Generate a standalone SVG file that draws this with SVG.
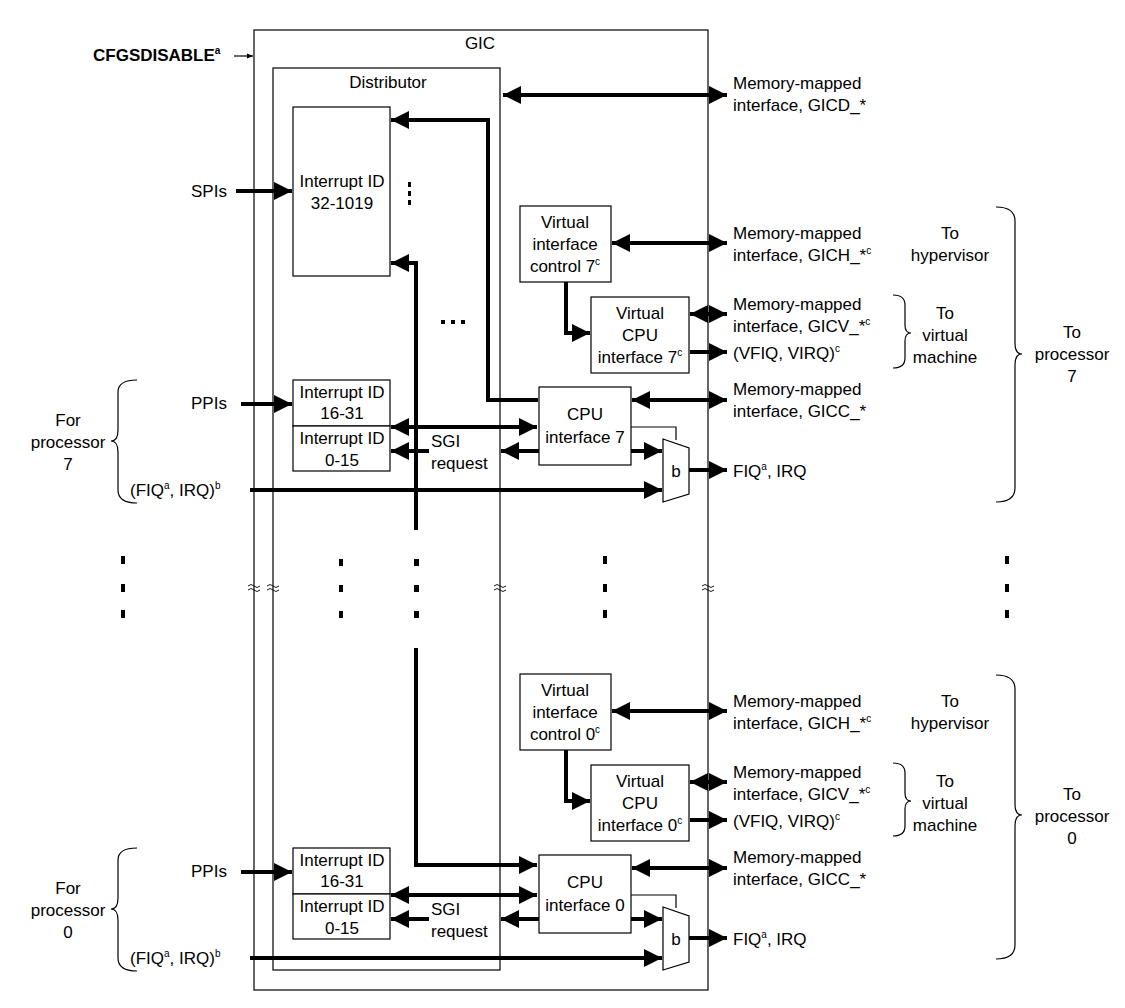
<svg xmlns="http://www.w3.org/2000/svg" width="1125" height="1008" viewBox="0 0 1125 1008">
<defs>
<marker id="a" viewBox="0 0 10 10" refX="10" refY="5" markerWidth="4.5" markerHeight="4.5" orient="auto-start-reverse" markerUnits="strokeWidth"><path d="M0,0L10,5L0,10z" fill="#000"/></marker>
<marker id="s" viewBox="0 0 10 10" refX="10" refY="5" markerWidth="6" markerHeight="6" orient="auto" markerUnits="userSpaceOnUse"><path d="M0,1L10,5L0,9z" fill="#000"/></marker>
</defs>
<style>
text{font-family:"Liberation Sans",Arial,sans-serif;font-size:17px;fill:#000}
.m{text-anchor:middle}
.sup{font-size:10px}
rect,.t{fill:#fff;stroke:#000;stroke-width:1.2}
.f{fill:none;stroke:#000;stroke-width:1.2}
.w{fill:none;stroke:#000;stroke-width:4}
.d{fill:none;stroke:#000;stroke-width:4;marker-end:url(#a)}
.b{fill:none;stroke:#000;stroke-width:4;marker-start:url(#a);marker-end:url(#a)}
rect.dot,.dot rect{fill:#000;stroke:none}
</style>
<rect width="1125" height="1008" style="fill:#fff;stroke:none"/>
<g id="gic"><rect x="254" y="30" width="454" height="960"/><text x="480" y="49" class="m">GIC</text></g>
<g id="distributor"><rect x="273" y="68" width="227" height="902"/><text x="388" y="88" class="m">Distributor</text></g>
<g id="cfg"><text x="93" y="61" style="font-weight:bold">CFGSDISABLE<tspan class="sup" dy="-7">a</tspan></text><path d="M234,56H253" class="f" style="marker-end:url(#s)"/></g>
<g id="spi-box"><rect x="293" y="107" width="97" height="169"/><text x="342" y="187" class="m">Interrupt ID</text><text x="342" y="209" class="m">32-1019</text>
<rect x="408" y="182" width="3" height="5" class="dot"/><rect x="408" y="191" width="3" height="5" class="dot"/><rect x="408" y="200" width="3" height="5" class="dot"/></g>
<g id="labels-top"><text x="191" y="197">SPIs</text>
<text x="733" y="89">Memory-mapped</text><text x="733" y="111">interface, GICD_*</text>
<rect x="441" y="320" width="4" height="4" class="dot"/><rect x="451" y="320" width="4" height="4" class="dot"/><rect x="461" y="320" width="4" height="4" class="dot"/></g>

<g id="cpu7-group">
<g id="vic7"><rect x="520" y="206" width="91" height="76"/><text x="565" y="228" class="m">Virtual</text><text x="565" y="250" class="m">interface</text><text x="565" y="272" class="m">control 7<tspan class="sup" dy="-7">c</tspan></text></g>
<g id="vcpu7"><rect x="591" y="297" width="98" height="76"/><text x="640" y="319" class="m">Virtual</text><text x="640" y="341" class="m">CPU</text><text x="640" y="363" class="m">interface 7<tspan class="sup" dy="-7">c</tspan></text></g>
<g id="cpu7"><rect x="539" y="387" width="92" height="78"/><text x="585" y="420" class="m">CPU</text><text x="585" y="443" class="m">interface 7</text></g>
<g id="ppi7"><rect x="293" y="380" width="97" height="46"/><rect x="293" y="426" width="97" height="45"/><text x="342" y="398" class="m">Interrupt ID</text><text x="342" y="419" class="m">16-31</text><text x="342" y="444" class="m">Interrupt ID</text><text x="342" y="466" class="m">0-15</text></g>
<g id="mux7"><path d="M663,439L689,448V494L663,502Z" class="t"/><text x="676" y="477" class="m">b</text></g>
<text x="733" y="239">Memory-mapped</text><text x="733" y="261">interface, GICH_*<tspan class="sup" dy="-7">c</tspan></text>
<text x="950" y="239" class="m">To</text><text x="950" y="261" class="m">hypervisor</text>
<text x="733" y="310">Memory-mapped</text><text x="733" y="332">interface, GICV_*<tspan class="sup" dy="-7">c</tspan></text>
<text x="733" y="359">(VFIQ, VIRQ)<tspan class="sup" dy="-7">c</tspan></text>
<text x="945" y="319" class="m">To</text><text x="945" y="341" class="m">virtual</text><text x="945" y="363" class="m">machine</text>
<text x="1072" y="338" class="m">To</text><text x="1072" y="360" class="m">processor</text><text x="1072" y="382" class="m">7</text>
<text x="733" y="395">Memory-mapped</text><text x="733" y="417">interface, GICC_*</text>
<text x="733" y="477">FIQ<tspan class="sup" dy="-7">a</tspan><tspan dy="7">, IRQ</tspan></text>
<text x="191" y="409">PPIs</text>
<text x="431" y="447">SGI</text><text x="431" y="469">request</text>
<text x="130" y="496">(FIQ<tspan class="sup" dy="-7">a</tspan><tspan dy="7">, IRQ)</tspan><tspan class="sup" dy="-7">b</tspan></text>
<text x="68" y="426" class="m">For</text><text x="68" y="448" class="m">processor</text><text x="68" y="470" class="m">7</text>
<path d="M893,295q12,0 12,10v20q0,8 6,8q-6,0 -6,8v17q0,10 -12,10" class="f"/>
<path d="M996,207q19,0 19,14v122q0,11 7,11q-7,0 -7,11v123q0,14 -19,14" class="f"/>
<path d="M137,380q-19,0 -19,12v38q0,11 -7,11q7,0 7,11v38q0,13 19,13" class="f"/>
</g>

<g id="cpu0-group">
<g id="vic0"><rect x="520" y="674" width="91" height="76"/><text x="565" y="696" class="m">Virtual</text><text x="565" y="718" class="m">interface</text><text x="565" y="740" class="m">control 0<tspan class="sup" dy="-7">c</tspan></text></g>
<g id="vcpu0"><rect x="591" y="765" width="98" height="76"/><text x="640" y="787" class="m">Virtual</text><text x="640" y="809" class="m">CPU</text><text x="640" y="831" class="m">interface 0<tspan class="sup" dy="-7">c</tspan></text></g>
<g id="cpu0"><rect x="539" y="855" width="92" height="78"/><text x="585" y="888" class="m">CPU</text><text x="585" y="911" class="m">interface 0</text></g>
<g id="ppi0"><rect x="293" y="848" width="97" height="46"/><rect x="293" y="894" width="97" height="45"/><text x="342" y="866" class="m">Interrupt ID</text><text x="342" y="887" class="m">16-31</text><text x="342" y="912" class="m">Interrupt ID</text><text x="342" y="934" class="m">0-15</text></g>
<g id="mux0"><path d="M663,907L689,916V962L663,970Z" class="t"/><text x="676" y="945" class="m">b</text></g>
<text x="733" y="707">Memory-mapped</text><text x="733" y="729">interface, GICH_*<tspan class="sup" dy="-7">c</tspan></text>
<text x="950" y="707" class="m">To</text><text x="950" y="729" class="m">hypervisor</text>
<text x="733" y="778">Memory-mapped</text><text x="733" y="800">interface, GICV_*<tspan class="sup" dy="-7">c</tspan></text>
<text x="733" y="827">(VFIQ, VIRQ)<tspan class="sup" dy="-7">c</tspan></text>
<text x="945" y="787" class="m">To</text><text x="945" y="809" class="m">virtual</text><text x="945" y="831" class="m">machine</text>
<text x="1072" y="800" class="m">To</text><text x="1072" y="822" class="m">processor</text><text x="1072" y="844" class="m">0</text>
<text x="733" y="863">Memory-mapped</text><text x="733" y="885">interface, GICC_*</text>
<text x="733" y="945">FIQ<tspan class="sup" dy="-7">a</tspan><tspan dy="7">, IRQ</tspan></text>
<text x="191" y="877">PPIs</text>
<text x="431" y="915">SGI</text><text x="431" y="937">request</text>
<text x="130" y="964">(FIQ<tspan class="sup" dy="-7">a</tspan><tspan dy="7">, IRQ)</tspan><tspan class="sup" dy="-7">b</tspan></text>
<text x="68" y="894" class="m">For</text><text x="68" y="916" class="m">processor</text><text x="68" y="938" class="m">0</text>
<path d="M893,763q12,0 12,10v20q0,8 6,8q-6,0 -6,8v17q0,10 -12,10" class="f"/>
<path d="M996,675q19,0 19,14v115q0,11 7,11q-7,0 -7,11v119q0,14 -19,14" class="f"/>
<path d="M137,848q-19,0 -19,12v38q0,11 -7,11q7,0 7,11v38q0,13 19,13" class="f"/>
</g>

<g id="dots">
<g class="dot">
<rect x="121" y="556" width="4" height="8"/><rect x="121" y="584" width="4" height="8"/><rect x="121" y="610" width="4" height="8"/>
<rect x="339" y="559" width="4" height="7"/><rect x="339" y="585" width="4" height="7"/><rect x="339" y="611" width="4" height="7"/>
<rect x="414" y="559" width="5" height="7"/><rect x="414" y="585" width="5" height="7"/><rect x="414" y="611" width="5" height="7"/>
<rect x="603" y="556" width="4" height="8"/><rect x="603" y="584" width="4" height="8"/><rect x="603" y="610" width="4" height="8"/>
<rect x="1005" y="556" width="4" height="8"/><rect x="1005" y="584" width="4" height="8"/><rect x="1005" y="610" width="4" height="8"/>
</g>
<g class="f" style="stroke-width:0.9">
<path d="M248,586q3,-3 6,0t6,0M248,590q3,-3 6,0t6,0"/>
<path d="M267,586q3,-3 6,0t6,0M267,590q3,-3 6,0t6,0"/>
<path d="M494,586q3,-3 6,0t6,0M494,590q3,-3 6,0t6,0"/>
<path d="M702,586q3,-3 6,0t6,0M702,590q3,-3 6,0t6,0"/>
</g>
</g>

<g id="connectors">
<path d="M236,191H292" class="d"/>
<path d="M503,95H727" class="b"/>
<path d="M538,400H488V120H391" class="d"/>
<path d="M416,530V263H391" class="d"/>
<path d="M416,648V865H537" class="d"/>
<path d="M612,243H727" class="b"/>
<path d="M566,282V333H590" class="d"/>
<path d="M690,314H727" class="b"/>
<path d="M690,352H727" class="d"/>
<path d="M632,400H727" class="b"/>
<path d="M241,404H292" class="d"/>
<path d="M391,427H537" class="b"/>
<path d="M429,451H391" class="d"/>
<path d="M539,451H501" class="d"/>
<path d="M631,427H676V440" class="f"/>
<path d="M631,451H662" class="d"/>
<path d="M250,490H662" class="d"/>
<path d="M689,470H727" class="d"/>
<path d="M612,711H727" class="b"/>
<path d="M566,750V801H590" class="d"/>
<path d="M690,782H727" class="b"/>
<path d="M690,820H727" class="d"/>
<path d="M632,868H727" class="b"/>
<path d="M241,872H292" class="d"/>
<path d="M391,895H537" class="b"/>
<path d="M429,919H391" class="d"/>
<path d="M539,919H501" class="d"/>
<path d="M631,895H676V908" class="f"/>
<path d="M631,919H662" class="d"/>
<path d="M250,958H662" class="d"/>
<path d="M689,938H727" class="d"/>
</g>
</svg>
